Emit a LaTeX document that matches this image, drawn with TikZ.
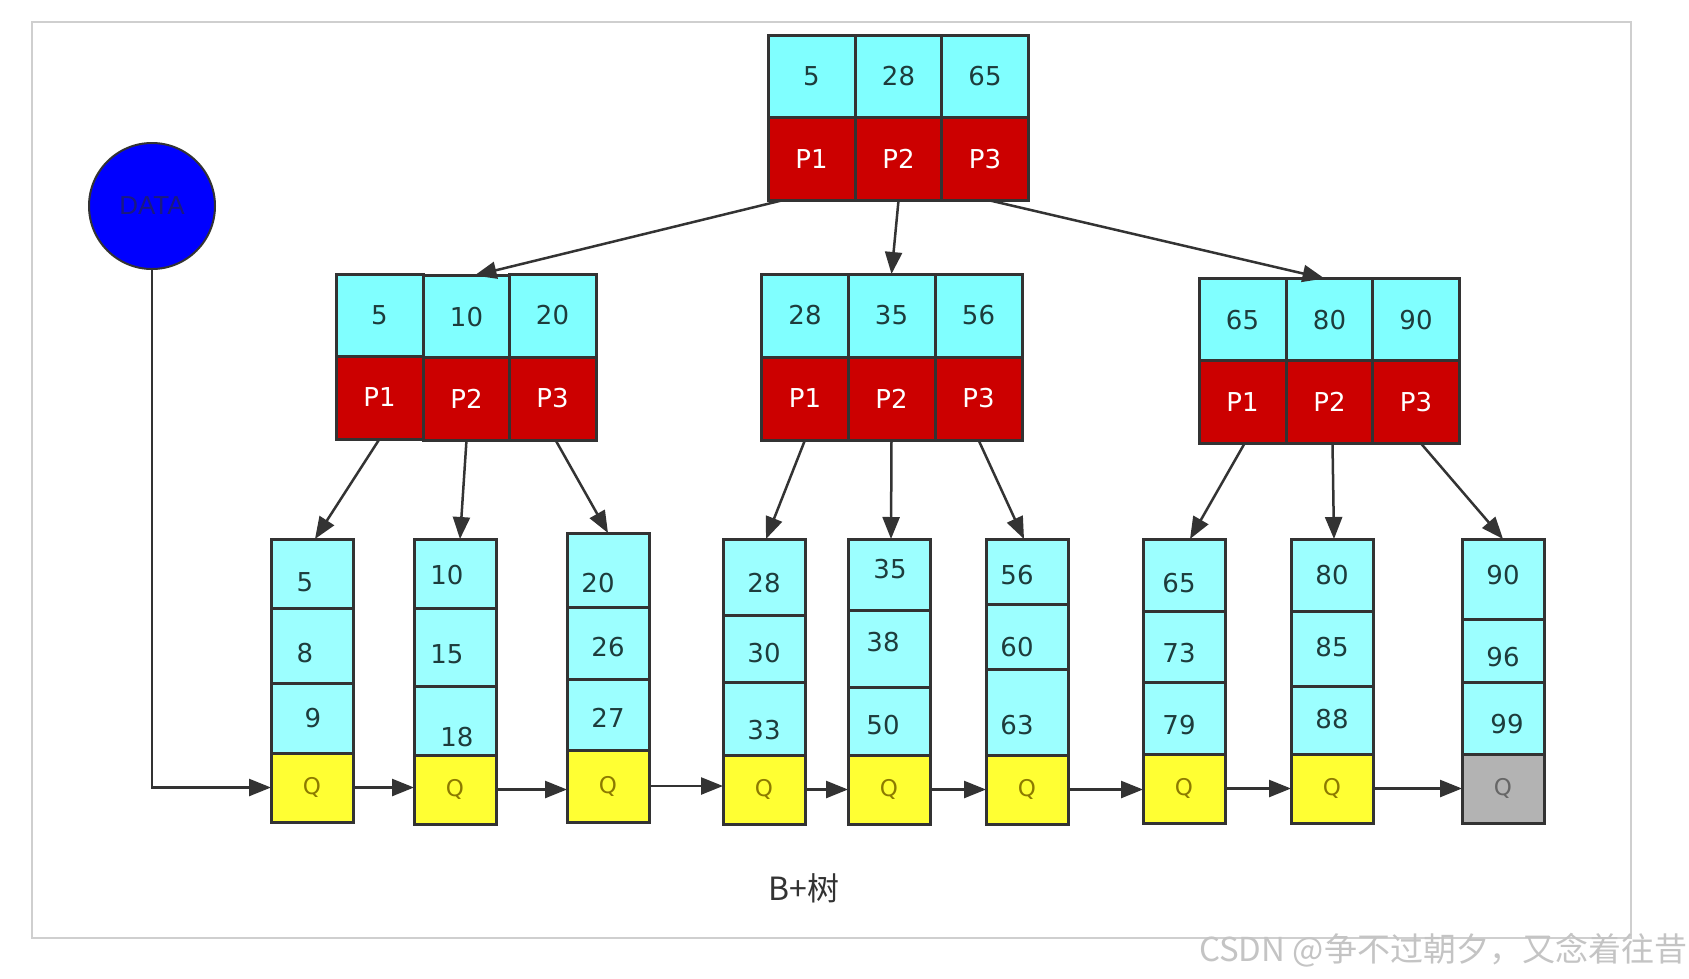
\documentclass[tikz,border=0pt]{standalone}
\usepackage{fontspec}
\setmainfont{DejaVu Sans}
\newfontfamily\cjkfont{Noto Sans CJK SC}
\newfontfamily\arialfont{Liberation Sans}
\usetikzlibrary{arrows.meta}
\definecolor{cyanA}{HTML}{80FFFF}
\definecolor{cyanB}{HTML}{9CFFFF}
\definecolor{redA}{HTML}{CC0000}
\definecolor{yellowA}{HTML}{FFFF33}
\definecolor{grayA}{HTML}{B3B3B3}
\definecolor{edgeC}{HTML}{333333}
\definecolor{numtxt}{HTML}{1E3C3C}
\definecolor{qtxt}{HTML}{8C7A00}
\definecolor{qgtxt}{HTML}{666666}
\definecolor{frameC}{HTML}{CFCFCF}
\definecolor{wmC}{HTML}{C4C4C4}
\definecolor{datatxt}{HTML}{1A1A80}
\begin{document}
\begin{tikzpicture}[x=1pt,y=-1pt,
 every node/.style={inner sep=0pt, outer sep=0pt},
 cell/.style={draw=edgeC, line width=3pt, font=\fontsize{26}{26}\selectfont},
 keycell/.style={cell, fill=cyanA, text=numtxt, minimum width=87pt, minimum height=83pt},
 ptrcell/.style={cell, fill=redA, text=white, minimum width=87pt, minimum height=83pt},
 leafcell/.style={cell, fill=cyanB, minimum width=82pt},
 leaftxt/.style={text=numtxt, font=\fontsize{26}{26}\selectfont},
 qcell/.style={cell, minimum width=82pt, font=\fontsize{23}{23}\selectfont},
 arr/.style={draw=edgeC, line width=2.5pt, -{Triangle[length=22pt,width=17pt]}},
]
\useasboundingbox (0,0) rectangle (1689,978);
\fill[white] (0,0) rectangle (1689,978);
\draw[frameC, line width=2pt] (32,22) rectangle (1631,938);

% root
\node[keycell] (r1) at (811.5,76.5) {5};
\node[keycell] (r2) at (898.5,76.5) {28};
\node[keycell] (r3) at (985,76.5) {65};
\node[ptrcell] (rp1) at (811.5,159) {P1};
\node[ptrcell] (rp2) at (898.5,159) {P2};
\node[ptrcell] (rp3) at (985,159) {P3};

% left internal
\node[keycell] (a1) at (379.5,315.5) {5};
\node[keycell] (a2) at (466.5,317) {10};
\node[keycell] (a3) at (552.5,315.5) {20};
\node[ptrcell] (ap1) at (379.5,397.5) {P1};
\node[ptrcell] (ap2) at (466.5,398.5) {P2};
\node[ptrcell] (ap3) at (552.5,398.5) {P3};

% middle internal
\node[keycell] (b1) at (805,315.5) {28};
\node[keycell] (b2) at (891.5,315.5) {35};
\node[keycell] (b3) at (978.5,315.5) {56};
\node[ptrcell] (bp1) at (805,398.5) {P1};
\node[ptrcell] (bp2) at (891.5,398.5) {P2};
\node[ptrcell] (bp3) at (978.5,398.5) {P3};

% right internal
\node[keycell] (c1) at (1242.5,320) {65};
\node[keycell] (c2) at (1329.5,320) {80};
\node[keycell] (c3) at (1416,320) {90};
\node[ptrcell] (cp1) at (1242.5,402) {P1};
\node[ptrcell] (cp2) at (1329.5,402) {P2};
\node[ptrcell] (cp3) at (1416,402) {P3};

% DATA
\node[circle, draw=edgeC, line width=2pt, fill=blue, minimum size=126pt,
      text=datatxt, font=\arialfont\fontsize{26}{26}\selectfont] (data) at (152,206) {DATA};

% leaves: index / x centre / top / divider1 / divider2 / Q top / bottom / Q fill / Q text
\foreach \i/\x/\t/\p/\q/\r/\b/\qf/\qt in {
  1/312/539/608/683/753/822/yellowA/qtxt,
  2/455/539/608/686/755/824/yellowA/qtxt,
  3/608/533/607/679/750/822/yellowA/qtxt,
  4/764/539/615/682/755/824/yellowA/qtxt,
  5/889/539/610/687/755/824/yellowA/qtxt,
  6/1027/539/604/669/755/824/yellowA/qtxt,
  7/1184/539/611/682/754/823/yellowA/qtxt,
  8/1332/539/611/686/754/823/yellowA/qtxt,
  9/1503/539/619/682/754/823/grayA/qgtxt}{
  \node[leafcell, minimum height={(\p-\t)*1pt}] (L\i-a) at (\x,{(\t+\p)/2}) {};
  \node[leafcell, minimum height={(\q-\p)*1pt}] (L\i-b) at (\x,{(\p+\q)/2}) {};
  \node[leafcell, minimum height={(\r-\q)*1pt}] (L\i-c) at (\x,{(\q+\r)/2}) {};
  \node[qcell, fill=\qf, text=\qt, minimum height={(\b-\r)*1pt}] (L\i-q) at (\x,{(\r+\b)/2}) {Q};
}

% leaf keys: index / cell / value / dx / dy
\foreach \i/\s/\v/\dx/\dy in {
  1/a/5/-7/9, 1/b/8/-7/8, 1/c/9/1/0,
  2/a/10/-8/2, 2/b/15/-8/7, 2/c/18/2/17,
  3/a/20/-10/13, 3/b/26/0/4, 3/c/27/0/3,
  4/a/28/0/6, 4/b/30/0/5, 4/c/33/0/12,
  5/a/35/1/-5, 5/b/38/-6/-6, 5/c/50/-6/4,
  6/a/56/-10/4, 6/b/60/-10/11, 6/c/63/-10/13,
  7/a/65/-5/8, 7/b/73/-5/7, 7/c/79/-5/7,
  8/a/80/0/0, 8/b/85/0/-1, 8/c/88/0/-1,
  9/a/90/0/-4, 9/b/96/0/7, 9/c/99/4/6}{
  \node[leaftxt] (T\i\s) at ([shift={(\dx,\dy)}]L\i-\s.center) {\v};
}

% tree arrows
\draw[arr] ([xshift=-30pt]rp1.south) -- ([xshift=8pt]a2.north);
\draw[arr] (rp2.south) -- (b2.north);
\draw[arr] ([xshift=5pt]rp3.south) -- ([xshift=-5pt]c2.north);

\draw[arr] (ap1.south) -- ([xshift=3pt]L1-a.north);
\draw[arr] (ap2.south) -- ([xshift=5pt]L2-a.north);
\draw[arr] ([xshift=3pt]ap3.south) -- (L3-a.north);

\draw[arr] (bp1.south) -- ([xshift=2pt]L4-a.north);
\draw[arr] (bp2.south) -- ([xshift=2pt]L5-a.north);
\draw[arr] (bp3.south) -- ([xshift=-3pt]L6-a.north);

\draw[arr] ([xshift=2pt]cp1.south) -- ([xshift=6pt]L7-a.north);
\draw[arr] ([xshift=3pt]cp2.south) -- ([xshift=2pt]L8-a.north);
\draw[arr] ([xshift=5pt]cp3.south) -- (L9-a.north);

% leaf chain
\draw[arr] (data.south) |- (L1-q.west);
\foreach \i [evaluate=\i as \j using int(\i+1)] in {1,...,8}{
  \draw[arr] (L\i-q.east) -- (L\i-q.east -| L\j-q.west);
}

% captions
\node[font=\cjkfont\fontsize{32}{32}\selectfont, text=edgeC] (cap) at (804,888) {B+树};
\node[anchor=east, font=\cjkfont\fontsize{33}{33}\selectfont, text=wmC] (wm) at (1687,950) {CSDN @争不过朝夕，又念着往昔};
\end{tikzpicture}
\end{document}
